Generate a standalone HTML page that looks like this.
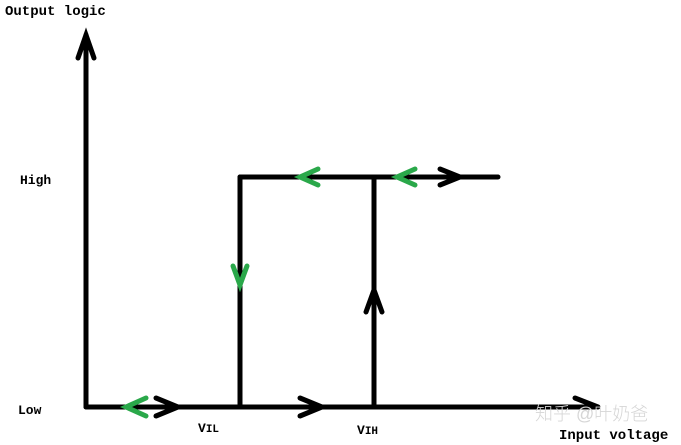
<!DOCTYPE html>
<html><head><style>
html,body{margin:0;padding:0;background:#fff;width:681px;height:445px;overflow:hidden}
svg{display:block}
text{font-family:"Liberation Mono",monospace;font-weight:bold;fill:#000}
</style></head><body>
<svg width="681" height="445" viewBox="0 0 681 445">
<g stroke="#000" stroke-width="5" stroke-linecap="round" fill="none">
<line x1="86" y1="407" x2="86" y2="35"/>
<polyline points="78,58 86,35 94,58"/>
<line x1="86" y1="407" x2="595" y2="407"/>
<polyline points="575,398 598,407"/>
<line x1="240" y1="177" x2="498" y2="177"/>
<line x1="240" y1="177" x2="240" y2="407"/>
<line x1="374" y1="177" x2="374" y2="407"/>
<polyline points="440,169 460,177 440,185"/>
<polyline points="156,398 178,407 156,416"/>
<polyline points="300,398 322,407 300,416"/>
<polyline points="366,312 374,290 382,312"/>
</g>
<g stroke="#2aa84a" stroke-width="5" stroke-linecap="round" fill="none">
<polyline points="146,398 126,407 146,416"/>
<polyline points="318,169 300,177 318,185"/>
<polyline points="415,169 397,177 415,185"/>
<polyline points="233,266 240,285 247,266"/>
</g>
<text x="5" y="15" font-size="14">Output logic</text>
<text x="20" y="184" font-size="13">High</text>
<text x="18" y="414" font-size="13">Low</text>
<text x="198" y="432" font-size="13">V<tspan font-size="11">IL</tspan></text>
<text x="357" y="434" font-size="13">V<tspan font-size="11">IH</tspan></text>
<text x="559" y="439" font-size="14" font-weight="normal">Input voltage</text>
<text x="535" y="420" font-size="18" font-weight="normal" style="fill:#d6d6d6;font-family:'Liberation Sans','Noto Sans CJK SC',sans-serif;font-weight:300">知乎 @叶奶爸</text>
</svg>
</body></html>
